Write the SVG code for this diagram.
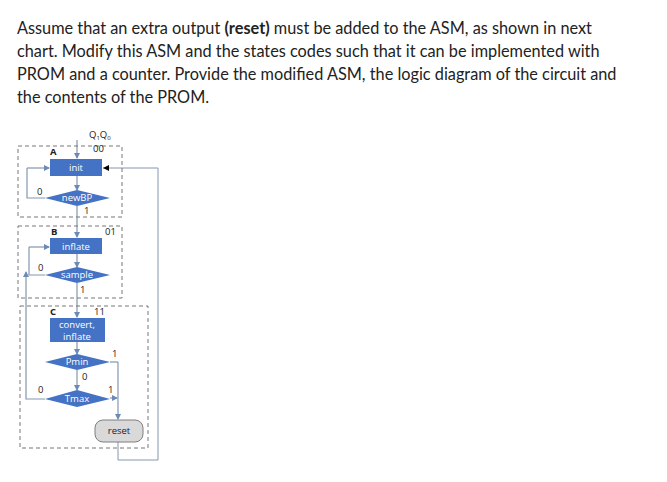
<svg xmlns="http://www.w3.org/2000/svg" width="667" height="482" viewBox="0 0 667 482">
<style>
.p{font-family:Lato,"Open Sans",sans-serif;font-size:16.3px;fill:#222}
.s{font-family:"Open Sans",sans-serif;font-size:9.5px;fill:#222}
.w{font-family:"Open Sans",sans-serif;font-size:9.5px;fill:#fff;text-anchor:middle}
.box{fill:none;stroke:#777;stroke-dasharray:4,3;stroke-width:1}
.st{fill:#4472c4}
.ln{fill:none;stroke:#8497b0;stroke-width:1.2}
.ln2{fill:none;stroke:#8497b0;stroke-width:1.2;marker-end:url(#a)}
</style>
<defs><marker id="a" markerWidth="6" markerHeight="6" refX="5" refY="3" orient="auto" markerUnits="userSpaceOnUse"><path d="M0,0L6,3L0,6z" fill="#6d8ab5"/></marker></defs>
<rect width="667" height="482" fill="#fff"/>
<text class="p" x="17" y="34">Assume that an extra output <tspan font-weight="bold">(reset)</tspan> must be added to the ASM, as shown in next</text>
<text class="p" x="17" y="57">chart. Modify this ASM and the states codes such that it can be implemented with</text>
<text class="p" x="17" y="80">PROM and a counter. Provide the modified ASM, the logic diagram of the circuit and</text>
<text class="p" x="17" y="103">the contents of the PROM.</text>
<g id="connectors">
<path class="ln2" d="M77,140V158"/>
<path class="ln2" d="M77,176V190"/>
<path class="ln" d="M45,198H27V168"/><path class="ln2" d="M27,168H49"/>
<path class="ln2" d="M77,206V237"/>
<path class="ln2" d="M77,254V267"/>
<path class="ln" d="M45,275H29V247"/><path class="ln2" d="M29,247H49"/>
<path class="ln2" d="M77,283V317"/>
<path class="ln2" d="M77,342V354"/>
<path class="ln2" d="M77,370V390"/>
<path class="ln" d="M45,399H26V290"/><path class="ln2" d="M26,290V272"/>
<path class="ln" d="M110,362H118"/><path class="ln2" d="M118,362V419"/>
<path class="ln2" d="M110,398H117"/>
<path fill="none" stroke="#8497b0" d="M118,442V460H158V168H103"/>
<path d="M103,168l6,-3v6z" fill="#000"/>
</g>
<g id="A"><rect class="box" x="18" y="146" width="104" height="71"/>
<text class="s" x="50" y="155" font-weight="bold">A</text>
<text class="s" x="89" y="138">Q<tspan font-size="6" dy="2">1</tspan><tspan dy="-2">Q</tspan><tspan font-size="6" dy="2">0</tspan></text>
<text class="s" x="93" y="152">00</text>
<rect class="st" x="50" y="159" width="52" height="17"/><text class="w" x="76" y="171">init</text>
<path class="st" d="M45,198L77,190L110,198L77,206z"/><text class="w" x="77" y="201">newBP</text>
<text class="s" x="37" y="195">0</text><text class="s" x="84" y="214">1</text></g>
<g id="B"><rect class="box" x="18" y="226" width="104" height="72"/>
<text class="s" x="51" y="235" font-weight="bold">B</text><text class="s" x="105" y="235">01</text>
<rect class="st" x="50" y="238" width="52" height="16"/><text class="w" x="76" y="250">inflate</text>
<path class="st" d="M45,275L77,267L110,275L77,283z"/><text class="w" x="77" y="278">sample</text>
<text class="s" x="38" y="271">0</text><text class="s" x="80" y="293">1</text></g>
<g id="C"><rect class="box" x="20" y="306" width="128" height="142"/>
<text class="s" x="50" y="315" font-weight="bold">C</text><text class="s" x="94" y="315">11</text>
<rect class="st" x="50" y="318" width="55" height="24"/><text class="w" x="77" y="328">convert,</text><text class="w" x="77" y="340">inflate</text>
<path class="st" d="M45,362L77,354L110,362L77,370z"/><text class="w" x="77" y="365">Pmin</text>
<path class="st" d="M45,399L77,390L110,399L77,407z"/><text class="w" x="77" y="402">Tmax</text>
<text class="s" x="112" y="357">1</text><text class="s" x="82" y="380">0</text>
<text class="s" x="38" y="393">0</text><text class="s" x="108" y="393">1</text></g>
<g id="reset"><rect x="95" y="420" width="48" height="22" rx="8" fill="#d9d9d9" stroke="#7f7f7f"/><text class="s" x="119" y="434" text-anchor="middle">reset</text></g>
</svg>
